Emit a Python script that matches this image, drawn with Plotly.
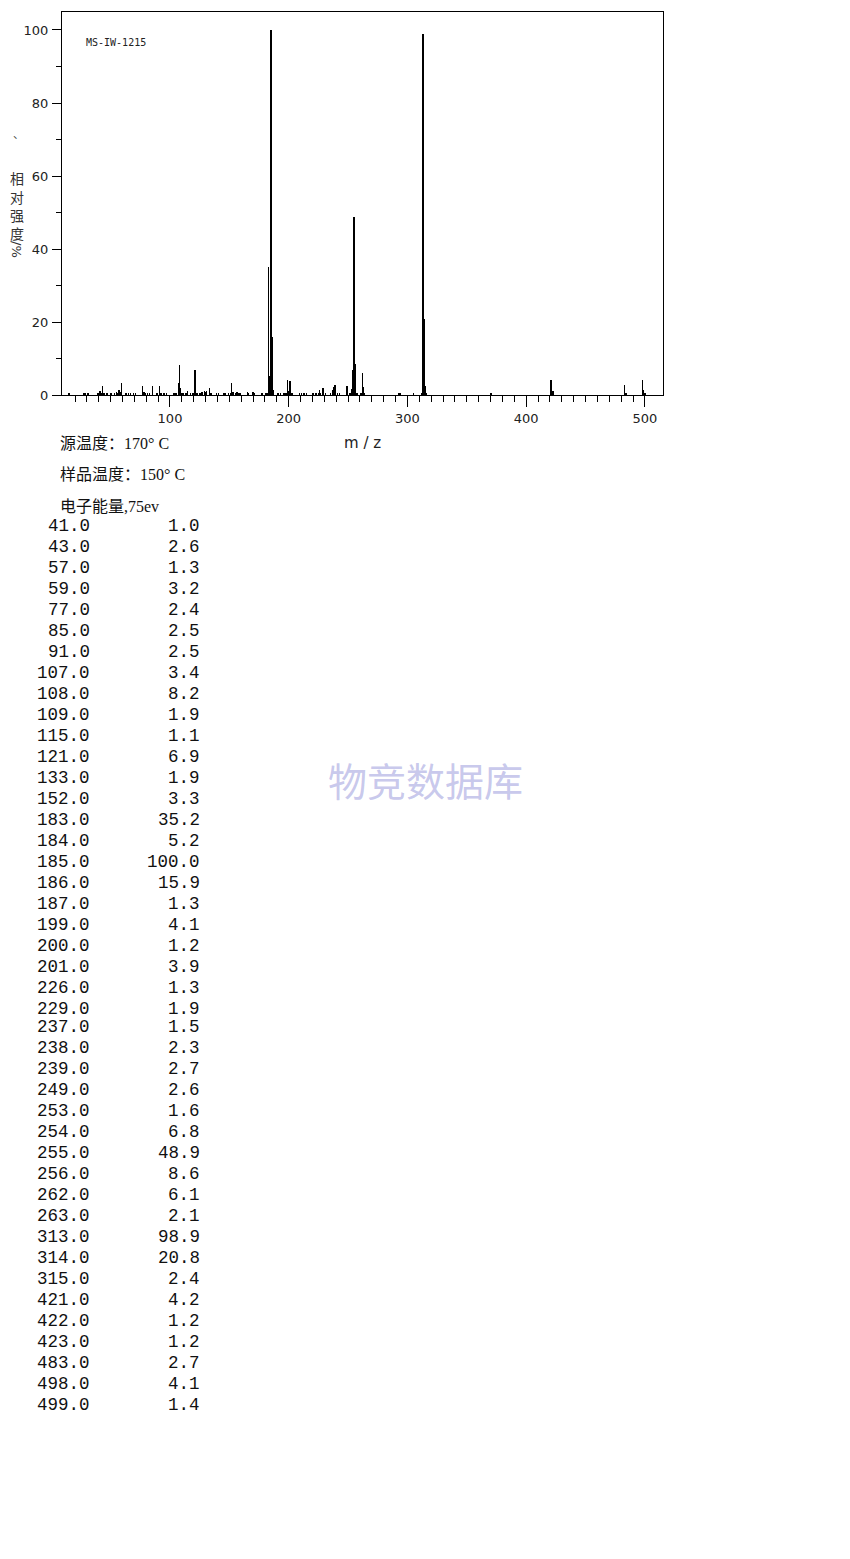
import plotly.graph_objects as go

# ---------------- data ----------------
mz = [41, 43, 57, 59, 77, 85, 91, 107, 108, 109, 115, 121, 133, 152, 183, 184, 185, 186, 187,
      199, 200, 201, 226, 229, 237, 238, 239, 249, 253, 254, 255, 256, 262, 263, 313, 314, 315,
      421, 422, 423, 483, 498, 499]
intensity = [1.0, 2.6, 1.3, 3.2, 2.4, 2.5, 2.5, 3.4, 8.2, 1.9, 1.1, 6.9, 1.9, 3.3, 35.2, 5.2, 100.0,
             15.9, 1.3, 4.1, 1.2, 3.9, 1.3, 1.9, 1.5, 2.3, 2.7, 2.6, 1.6, 6.8, 48.9, 8.6, 6.1, 2.1,
             98.9, 20.8, 2.4, 4.2, 1.2, 1.2, 2.7, 4.1, 1.4]

# small unlisted peaks
minor_mz = [15, 27, 28, 29, 31, 39, 40, 42, 44, 45, 47, 50, 51, 53, 55, 56, 58, 63, 65, 67, 69, 71,
            78, 79, 81, 83, 89, 92, 93, 95, 97, 103, 104, 105, 110, 111, 113, 114, 117, 119, 120,
            122, 123, 125, 126, 127, 129, 130, 131, 134, 135, 139, 141, 145, 146, 147, 149, 151,
            153, 155, 156, 157, 158, 159, 165, 166, 170, 171, 177, 178, 181, 182, 191, 193, 196,
            197, 198, 202, 203, 209, 211, 213, 215, 220, 221, 223, 225, 227, 231, 235, 241, 243,
            251, 252, 257, 258, 261, 264, 293, 294, 305, 312, 316, 370, 371, 484, 500]
minor_int = [0.3, 0.4, 0.6, 0.5, 0.3, 0.6, 0.4, 0.5, 0.4, 0.5, 0.3, 0.4, 0.6, 0.5, 0.8, 0.6, 0.9,
             0.5, 0.5, 0.4, 0.5, 0.4, 0.8, 0.5, 0.4, 0.3, 0.4, 0.4, 0.6, 0.5, 0.3, 0.4, 0.4, 0.4,
             0.5, 0.4, 0.3, 0.4, 0.4, 0.3, 0.5, 0.6, 0.5, 0.6, 0.5, 0.7, 1.0, 0.9, 1.0, 0.6, 0.4,
             0.3, 0.6, 0.4, 0.5, 0.6, 0.3, 0.6, 0.8, 0.6, 0.7, 0.7, 0.6, 0.4, 0.8, 0.5, 0.7, 0.5,
             0.4, 0.4, 0.3, 0.5, 0.4, 0.3, 0.4, 0.5, 0.6, 0.6, 0.5, 0.3, 0.5, 0.4, 0.4, 0.4, 0.5,
             0.3, 0.5, 0.6, 0.4, 0.4, 0.5, 0.3, 0.3, 0.5, 0.5, 0.4, 0.4, 0.6, 0.3, 0.5, 0.3, 0.4,
             0.5, 0.4, 0.4, 0.6, 0.4]

x_tick_vals = [100, 200, 300, 400, 500]
y_tick_vals = [0, 20, 40, 60, 80, 100]

sample_id = "MS-IW-1215"
info_lines = ["源温度：170° C", "样品温度：150° C", "电子能量,75ev"]
y_title_chars = ["相", "对", "强", "度"]
watermark = "物竞数据库"

# ---------------- layout geometry (pixels of the reference) ----------------
OFF = 8                      # default page body margin
W, H = 850 - 2 * OFF, 1559 - 2 * OFF
L, R, T, B = 62, 663, 12, 395
PW, PH = R - L, B - T


def px(x):
    return (x - L) / PW


def py(y):
    return (B - y) / PH


fig = go.Figure()
fig.add_trace(go.Bar(x=minor_mz, y=minor_int, width=0.3, marker=dict(color="black", line=dict(width=0)),
                     hoverinfo="x+y"))
fig.add_trace(go.Bar(x=mz, y=intensity, width=0.3, marker=dict(color="black", line=dict(width=0)),
                     hoverinfo="x+y"))

minor_x = [v for v in range(20, 501, 10) if v % 100 != 0]

fig.update_layout(
    width=W, height=H,
    margin=dict(l=L - OFF, r=W - (R - OFF), t=T - OFF, b=H - (B - OFF), pad=0),
    paper_bgcolor="white", plot_bgcolor="white",
    showlegend=False, bargap=0, barmode="overlay",
    xaxis=dict(range=[9.05, 515.2], showline=True, linecolor="black", linewidth=1, mirror=True,
               ticks="outside", tickvals=x_tick_vals, ticklen=11, tickcolor="black", tickwidth=1,
               minor=dict(tickvals=minor_x, ticklen=6, tickcolor="black", ticks="outside", tickwidth=1,
                          showgrid=False),
               showgrid=False, zeroline=False, ticklabelstandoff=0,
               tickfont=dict(family="DejaVu Sans", size=13, color="#222")),
    yaxis=dict(range=[0, 104.93], showline=True, linecolor="black", linewidth=1, mirror=True,
               ticks="outside", tickvals=y_tick_vals, ticklen=9, tickcolor="black", tickwidth=1,
               minor=dict(tickvals=[10, 30, 50, 70, 90], ticklen=5, tickcolor="black", ticks="outside",
                          tickwidth=1, showgrid=False),
               showgrid=False, zeroline=False, ticklabelstandoff=1,
               tickfont=dict(family="DejaVu Sans", size=13, color="#222")),
)

ann = []


def add(text, x, y, xanchor="left", yanchor="middle", size=16, family="Noto Sans CJK SC",
        color="#111", angle=0):
    ann.append(dict(text=text, x=px(x), y=py(y), xref="paper", yref="paper", showarrow=False,
                    xanchor=xanchor, yanchor=yanchor, textangle=angle, borderpad=0,
                    font=dict(size=size, family=family, color=color)))


# sample id inside plot
add(sample_id, 85, 42.5, size=10, family="DejaVu Sans Mono", color="#222")

# x-axis title
add("m / z", 362.5, 443, xanchor="center", size=15, family="DejaVu Sans", color="#222")

# y-axis title (vertical)
add("、", 18, 133, xanchor="center", size=11, color="#444")
for i, ch in enumerate(y_title_chars):
    add(ch, 17, 178 + 18.5 * i, xanchor="center", size=14, color="#333")
add("/%", 17, 249, xanchor="center", size=13, family="DejaVu Sans", color="#333", angle=90)

# info lines
for i, line in enumerate(info_lines):
    add(line, 59, 443 + 31.5 * i, size=16, family="Liberation Serif, Noto Sans CJK SC", color="#111")

# peak table
for i, (m, v) in enumerate(zip(mz, intensity)):
    yy = 526 + 21 * i if i < 24 else 1027 + 21 * (i - 24)
    add(f"{m:.1f}", 91, yy, xanchor="right", size=17.5, family="Liberation Mono", color="#111")
    add(f"{v:.1f}", 201, yy, xanchor="right", size=17.5, family="Liberation Mono", color="#111")

# watermark
add(watermark, 425, 779, xanchor="center", size=39, color="rgba(170,170,225,0.65)")

fig.update_layout(annotations=ann)
fig.write_html("out.html")
